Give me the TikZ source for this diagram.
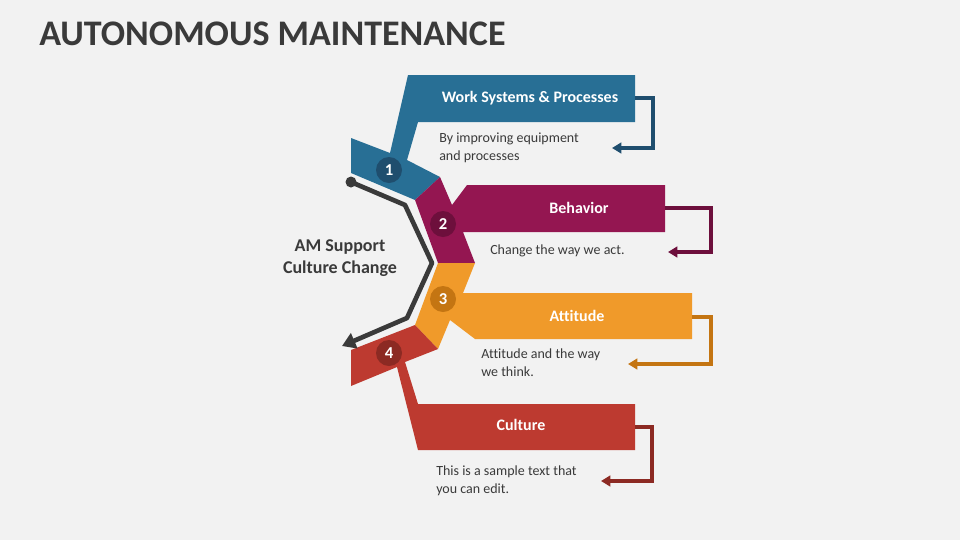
\documentclass[tikz,border=0pt]{standalone}
\usepackage{fontspec}
\setmainfont[Ligatures={NoCommon,TeX}]{Carlito}
\usetikzlibrary{arrows.meta}
\definecolor{cb}{HTML}{286F95}\definecolor{cbd}{HTML}{1F4E6E}
\definecolor{cp}{HTML}{941651}\definecolor{cpd}{HTML}{6D0F3C}
\definecolor{co}{HTML}{F09A2A}\definecolor{cod}{HTML}{C47512}
\definecolor{cr}{HTML}{BD3A30}\definecolor{crd}{HTML}{8C2A23}
\definecolor{bg}{HTML}{F2F2F2}\definecolor{tx}{HTML}{3A3A3A}
\tikzset{
 num/.style={circle,minimum size=26pt*0.75,inner sep=0pt,text=white,font=\bfseries\fontsize{12.5}{12}\selectfont},
 bartext/.style={text=white,font=\bfseries\fontsize{12}{14}\selectfont},
 desc/.style={text=tx,align=left,anchor=north west,inner sep=0pt,font=\fontsize{10.5}{13}\selectfont},
 conn/.style={line width=2.4pt,-{Triangle[length=7pt,width=8pt]}},
}
\begin{document}
\begin{tikzpicture}[x=0.75pt,y=-0.75pt]
\fill[bg] (0,0) rectangle (960,540);
\useasboundingbox (0,0) rectangle (960,540);
\node[anchor=west,text=tx,font=\bfseries\fontsize{27}{30}\selectfont,inner sep=0pt] (title) at (39,34) {AUTONOMOUS MAINTENANCE};
% shapes
\fill[cb] (408,75)--(635,75)--(635,122)--(418,122)--(407,160)--(440,177)--(415,200)--(351,173)--(351,138)--(390,153)--cycle;
\fill[cp] (415,200)--(440,177)--(452,205)--(467,185)--(665,185)--(665,232)--(463,232)--(475,263)--(438,263)--cycle;
\fill[co] (438,263)--(475,263)--(463,293)--(692,293)--(692,339)--(475,339)--(450,320)--(438,349)--(415,325)--cycle;
\fill[cr] (415,325)--(438,349)--(405,362)--(418,404)--(635,404)--(635,450)--(418,450)--(397,367)--(351,386)--(351,350)--cycle;
% circles
\node[num,fill=cbd] (n1) at (389,170) {1};
\node[num,fill=cpd] (n2) at (443,224) {2};
\node[num,fill=cod] (n3) at (443,299) {3};
\node[num,fill=crd] (n4) at (389,353) {4};
% gray path
\fill[tx] (351,182) circle (5.5);
\coordinate (gs) at (351,182);
\coordinate (ge) at (342,346);
\draw[tx,line width=3.5pt,line join=round,-{Triangle[length=10pt,width=12pt]}] (gs)--(405,205)--(432,263)--(407,318)--(ge);
\node[text=tx,font=\bfseries\fontsize{13.5}{16}\selectfont,align=center] (am) at (340,258) {AM Support\\Culture Change};
% bar texts
\node[bartext] (t1) at (530,98) {Work Systems \& Processes};
\node[bartext] (t2) at (579,208) {Behavior};
\node[bartext] (t3) at (577,316) {Attitude};
\node[bartext] (t4) at (521,425) {Culture};
% descriptions
\node[desc] (d1) at (439,133) {By improving equipment\\and processes};
\node[desc] (d2) at (490,245) {Change the way we act.};
\node[desc] (d3) at (481,349) {Attitude and the way\\we think.};
\node[desc] (d4) at (436,466) {This is a sample text that\\you can edit.};
% connectors
\coordinate (b1) at (635,98); \coordinate (e1) at (612,148);
\draw[conn,cbd] (b1)--(653,98)--(653,148)--(e1);
\coordinate (b2) at (665,208); \coordinate (e2) at (668,252);
\draw[conn,cpd] (b2)--(711,208)--(711,252)--(e2);
\coordinate (b3) at (692,317); \coordinate (e3) at (628,364);
\draw[conn,cod] (b3)--(711,317)--(711,364)--(e3);
\coordinate (b4) at (635,427); \coordinate (e4) at (601,481);
\draw[conn,crd] (b4)--(652,427)--(652,481)--(e4);
\end{tikzpicture}
\end{document}
